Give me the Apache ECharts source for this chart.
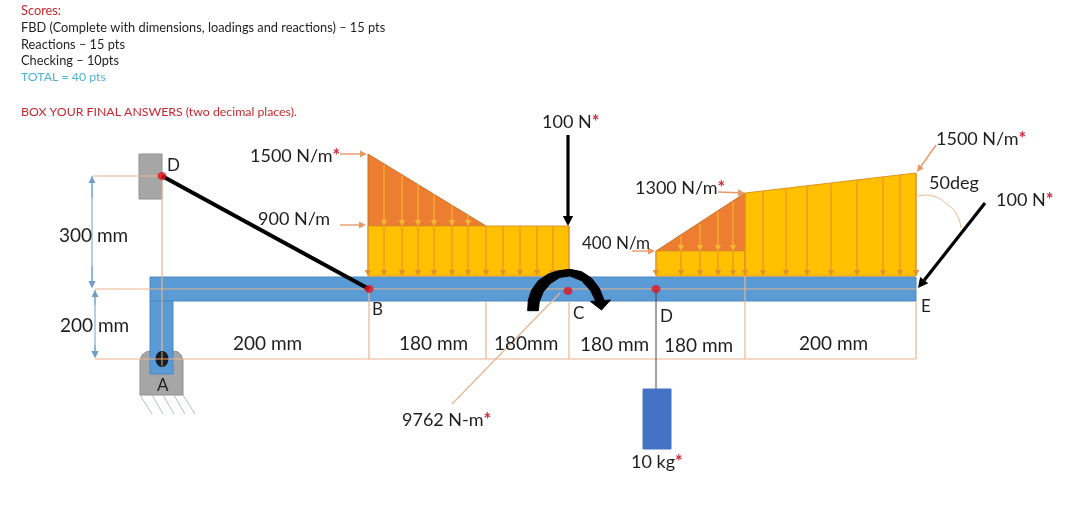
<!DOCTYPE html>
<html><head><meta charset="utf-8">
<style>html,body{margin:0;padding:0;background:#fff}#c{width:1080px;height:524px;filter:blur(0.4px)}</style>
<script src="https://cdn.jsdelivr.net/npm/echarts@6/dist/echarts.min.js"></script>
</head><body><div id="c"></div>
<script>
// Geometry, in axis units (x: 0..1080, y: 0..524 downward)
const supportBlocks = [
  [[139,154],[162,154],[162,199],[139,199]],
  [[140,395],[140,360],[142,355],[146,352],[150,351],[173,351],[178,352],[181,355],[183,360],[183,395]]
];
const beamShapes = [
  [[150,277],[916,277],[916,301],[150,301]],
  [[150,301],[173,301],[173,374],[150,374]]
];
const upperTriangles = [
  [[368,154],[486,226],[368,226]],
  [[656,251],[745,193],[745,251]]
];
const yellowBlocks = [
  [[368,226],[569,226],[569,276],[368,276]],
  [[656,251],[745,251],[745,276],[656,276]],
  [[745,193],[916,173],[916,276],[745,276]]
];
const weightBlock = [[[643,389],[671,389],[671,449],[643,449]]];
const hatchLines = [
  [[140,395],[152,414]],[[152,395],[163,414]],[[163,395],[174,414]],[[174,395],[185,414]],[[183,395],[195,414]]
];
const dimLines = [
  [[93,176],[162,176]],[[95,289],[916,289]],[[95,359],[916,359]],
  [[162,176],[162,359]],[[369,289],[369,359]],[[486,301],[486,359]],[[569,301],[569,359]],
  [[745,276],[745,359]],[[916,301],[916,359]],
  [[560,293],[452,404]]
];
const angleArc = [[[918,196],[933,196],[948,205],[957,215],[961,228]]];
const dimArrows = [
  [[92,198],[92,176]],[[92,266],[92,288]],[[95,305],[95,290]],[[95,345],[95,358]],
  [[92,176],[92,288]],[[95,290],[95,358]]
];
const leaderArrows = [
  [[340,154],[367,154]],[[340,225],[366,225]],[[632,251],[655,251]],
  [[718,192],[745,193]],[[936,145],[917,172]]
];
const upperLoadArrows = [
  [[384,165],[226]],[[402,176],[226]],[[418,184],[226]],[[434,194],[226]],[[452,205],[226]],[[468,214],[226]],
  [[681,236],[251]],[[700,224],[251]],[[718,212],[251]],[[733,202],[251]]
];
const lowerLoadArrows = [
  [[368,226],[276]],[[384,226],[276]],[[402,226],[276]],[[418,226],[276]],[[434,226],[276]],[[452,226],[276]],
  [[468,226],[276]],[[486,226],[276]],[[503,226],[276]],[[520,226],[276]],[[537,226],[276]],[[553,226],[276]],[[569,226],[276]],
  [[656,251],[276]],[[681,251],[276]],[[700,251],[276]],[[718,251],[276]],[[733,251],[276]],[[745,193],[276]],
  [[763,191],[276]],[[786,188],[276]],[[807,186],[276]],[[831,183],[276]],[[857,180],[276]],[[883,177],[276]],[[900,175],[276]],[[916,173],[276]]
];
const cableLine = [[[162,176],[369,289]]];
const forceArrows = [[[568,135],[568,226]],[[985,203],[918,288]]];
const momentShape = [[
  [527.7,310.7],[528.3,300],[531.7,290],[538.3,280.7],[548.3,274],[558.3,270.7],[570,269.3],[581.7,271.7],[591.7,278.3],[599.3,288.3],[604,300],
  [596,301.7],[590.7,290.7],[581.7,280.7],[570,276],[560,277.3],[550.7,283.3],[543.3,291.7],[539.3,301.7],[538.3,310.7]
]];
const momentHead = [[[590.5,301.5],[610.5,300],[601.5,310]]];
const rope = [[[656,289],[656,389]]];
const redPins = [[162,176],[369,289],[568,291],[656,289]];
const pinA = [[162,359]];
const pinCross = [[[162,352],[162,366]],[[155,359],[169,359]]];

const headerTexts = [
  ['Scores:',21,10,'red'],
  ['FBD (Complete with dimensions, loadings and reactions) \u2013 15 pts',21,27,'ink'],
  ['Reactions \u2013 15 pts',21,44,'ink'],
  ['Checking \u2013 10pts',21,60,'ink']
];
const noteTexts = [
  ['TOTAL = 40 pts',21,76,'cyan'],
  ['BOX YOUR FINAL ANSWERS (two decimal places).',21,111,'red']
];
const forceTexts = [
  ['100 N{s|*}',542,121],['1500 N/m{s|*}',250,155],['900 N/m',258,218],
  ['1300 N/m{s|*}',635,187],['1500 N/m{s|*}',936,138],['50deg',929,182],['100 N{s|*}',996,199],
  ['9762 N-m{s|*}',402,419],['10 kg{s|*}',631,461]
];
const lengthTexts = [
  ['300 mm',59,235],['200 mm',60,325],
  ['200 mm',233,343],['180 mm',399,343],['180mm',494,343],['180 mm',580,344],['180 mm',664,345],['200 mm',799,343]
];
const midTexts = [['400 N/m',582,243],['D',167,165],['A',157,385],['B',372,309],['C',573,313],['D',660,316],['E',921,306]];

const C = {ink:'#1f1f1f',red:'#c5282e',cyan:'#4db3d6',dim:'#e8b48e',arrow:'#f7b731',blue:'#6f9fc9',hatch:'#b4bcc6'};

function idx(a){return a.map((_,i)=>[i,0]);}
function custom(name,arr,z,render){
  return {type:'custom',name,coordinateSystem:'cartesian2d',silent:true,z,animation:false,clip:false,
    data:idx(arr),encode:{x:0,y:1},renderItem:(p,api)=>render(arr[api.value(0)],api)};
}
const toPx=(pts,api)=>pts.map(q=>api.coord(q));
const polys=(name,arr,fill,stroke,z)=>custom(name,arr,z,(pts,api)=>({type:'polygon',shape:{points:toPx(pts,api)},style:{fill,stroke,lineWidth:1}}));
const lines=(name,arr,color,w,z,smooth)=>custom(name,arr,z,(pts,api)=>({type:'polyline',shape:{points:toPx(pts,api),smooth:smooth||0},style:{fill:'none',stroke:color,lineWidth:w}}));
function arrowShape(a,b,color,w,hl,hw){
  const dx=b[0]-a[0],dy=b[1]-a[1],L=Math.hypot(dx,dy)||1,ux=dx/L,uy=dy/L;
  const bx=b[0]-ux*hl,by=b[1]-uy*hl;
  return {type:'group',children:[
    {type:'line',shape:{x1:a[0],y1:a[1],x2:bx,y2:by},style:{stroke:color,lineWidth:w}},
    {type:'polygon',shape:{points:[b,[bx-uy*hw,by+ux*hw],[bx+uy*hw,by-ux*hw]]},style:{fill:color}}
  ]};
}
const arrows=(name,arr,color,w,hl,hw,z)=>custom(name,arr,z,(pts,api)=>{
  const q=toPx(pts,api);return arrowShape(q[0],q[1],color,w,hl,hw);});
const loads=(name,arr,color,z)=>custom(name,arr,z,(d,api)=>{
  const a=api.coord(d[0]),b=api.coord([d[0][0],d[1][0]]);return arrowShape(a,b,color,1.1,6,3.2);});
const texts=(name,arr,size,z)=>custom(name,arr,z,(d,api)=>{
  const p=api.coord([d[1],d[2]+1]);
  return {type:'text',x:p[0],y:p[1],style:{text:d[0],fill:C[d[3]]||C.ink,font:size+'px Lato, "Open Sans", sans-serif',
    verticalAlign:'middle',align:'left',rich:{s:{fill:'#d8283c',font:'bold '+size+'px Lato, sans-serif'}}}};
});

const series=[
  polys('Supports',supportBlocks,'#a6a6a6','#8f8f8f',1),
  lines('Ground hatch',hatchLines,C.hatch,1,1),
  polys('Beam',beamShapes,'#5b9bd5','#4a88c2',2),
  polys('Upper load',upperTriangles,'#ed7d31','#c9772d',3),
  polys('Lower load',yellowBlocks,'#ffc000','#dc9528',3),
  lines('Dimension lines',dimLines,C.dim,1.2,4),
  lines('Angle arc',angleArc,C.dim,1,4,0.5),
  arrows('Dimension arrows',dimArrows,C.blue,1,7,3.5,5),
  arrows('Leader arrows',leaderArrows,'#e59a66',1.4,7,3.5,5),
  loads('Upper load arrows',upperLoadArrows,C.arrow,6),
  loads('Lower load arrows',lowerLoadArrows,'#e58f2d',6),
  lines('Cable',cableLine,'#000',4,7),
  arrows('Forces',forceArrows,'#000',3.2,10,5.2,7),
  polys('Moment',momentShape,'#000','#000',7),
  polys('Moment head',momentHead,'#000','#000',7),
  lines('Rope',rope,'#444',1,7),
  polys('Weight',weightBlock,'#4472c4','#4472c4',7),
  {type:'scatter',name:'Pins',data:redPins,symbol:'circle',symbolSize:[9,8],silent:true,z:8,animation:false,clip:false,itemStyle:{color:'#e2131f'}},
  {type:'scatter',name:'Pin A',data:pinA,symbol:'circle',symbolSize:[13,16],silent:true,z:8,animation:false,clip:false,itemStyle:{color:'#000'}},
  lines('Pin cross',pinCross,'#e8a060',1,9),
  texts('Header',headerTexts,12.8,10),
  texts('Notes',noteTexts,12.3,10),
  texts('Force labels',forceTexts,18,10),
  texts('Length labels',lengthTexts,19,10),
  texts('Small labels',midTexts,17,10)
];

const chart=echarts.init(document.getElementById('c'),null,{renderer:'canvas'});
chart.setOption({
  backgroundColor:'#fff',animation:false,tooltip:{show:false},
  grid:{left:0,right:0,top:0,bottom:0,containLabel:false},
  xAxis:{type:'value',min:0,max:1080,show:false},
  yAxis:{type:'value',min:0,max:524,inverse:true,show:false},
  series
});
</script></body></html>
